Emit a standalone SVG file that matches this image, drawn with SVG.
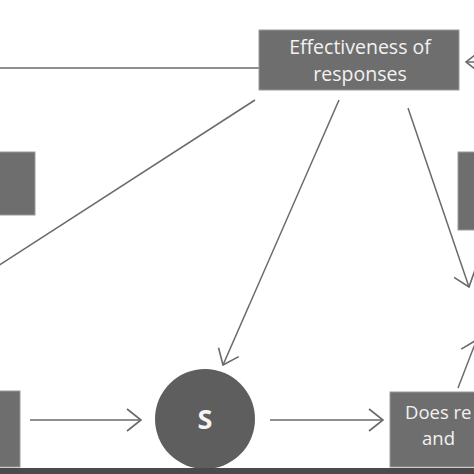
<svg xmlns="http://www.w3.org/2000/svg" width="474" height="474" viewBox="0 0 474 474">
<defs>
<marker id="ah" viewBox="0 0 16 24" markerWidth="16" markerHeight="24" refX="15" refY="12" orient="auto" markerUnits="userSpaceOnUse">
<path d="M1,1 L15,12 L1,23" fill="none" stroke="#6a6a6a" stroke-width="1.6"/>
</marker>
<style>
.box{fill:#6e6e6e;stroke:#9a9a9a;stroke-width:1}
.lbl{font-family:"Open Sans","Noto Sans","DejaVu Sans",sans-serif;fill:#f2f2f2;font-size:19.5px}
.lbl2{font-family:"Open Sans","Noto Sans","DejaVu Sans",sans-serif;fill:#f2f2f2;font-size:18.5px}
.con{fill:none;stroke:#6a6a6a;stroke-width:1.5}
</style>
</defs>
<rect width="474" height="474" fill="#ffffff"/>
<g id="connectors">
<line class="con" x1="259" y1="68" x2="-5" y2="68"/>
<line class="con" x1="255" y1="100" x2="-10" y2="271"/>
<line class="con" x1="339" y1="100" x2="223" y2="365" marker-end="url(#ah)"/>
<line class="con" x1="408" y1="108" x2="469" y2="287" marker-end="url(#ah)"/>
<line class="con" x1="490" y1="62" x2="466" y2="62" marker-end="url(#ah)"/>
<line class="con" x1="30" y1="420" x2="141" y2="420" marker-end="url(#ah)"/>
<line class="con" x1="270" y1="420" x2="383" y2="420" marker-end="url(#ah)"/>
<line class="con" x1="458" y1="388" x2="476.5" y2="340" marker-end="url(#ah)"/>
</g>
<g id="effectiveness">
<rect class="box" x="259" y="30" width="200" height="60"/>
<text class="lbl" x="360" y="54" text-anchor="middle">Effectiveness of</text>
<text class="lbl" x="360" y="81" text-anchor="middle">responses</text>
</g>
<g id="left-mid-box">
<rect class="box" x="-2" y="152" width="37" height="63"/>
</g>
<g id="right-mid-box">
<rect class="box" x="458" y="152" width="20" height="78"/>
</g>
<g id="left-bottom-box">
<rect class="box" x="-2" y="391" width="22" height="76"/>
</g>
<g id="s-node">
<circle cx="205" cy="419" r="50" fill="#5e5e5e"/>
<text x="205" y="429" text-anchor="middle" style="font-family:'Open Sans','Noto Sans',sans-serif;font-weight:bold;font-size:27px;fill:#f5f5f5">S</text>
</g>
<g id="does-box">
<rect class="box" x="390" y="392" width="90" height="75"/>
<text class="lbl2" x="405" y="419">Does re</text>
<text class="lbl2" x="422" y="445">and</text>
</g>
<rect x="0" y="468" width="474" height="6" fill="#4a4a4a"/>
</svg>
